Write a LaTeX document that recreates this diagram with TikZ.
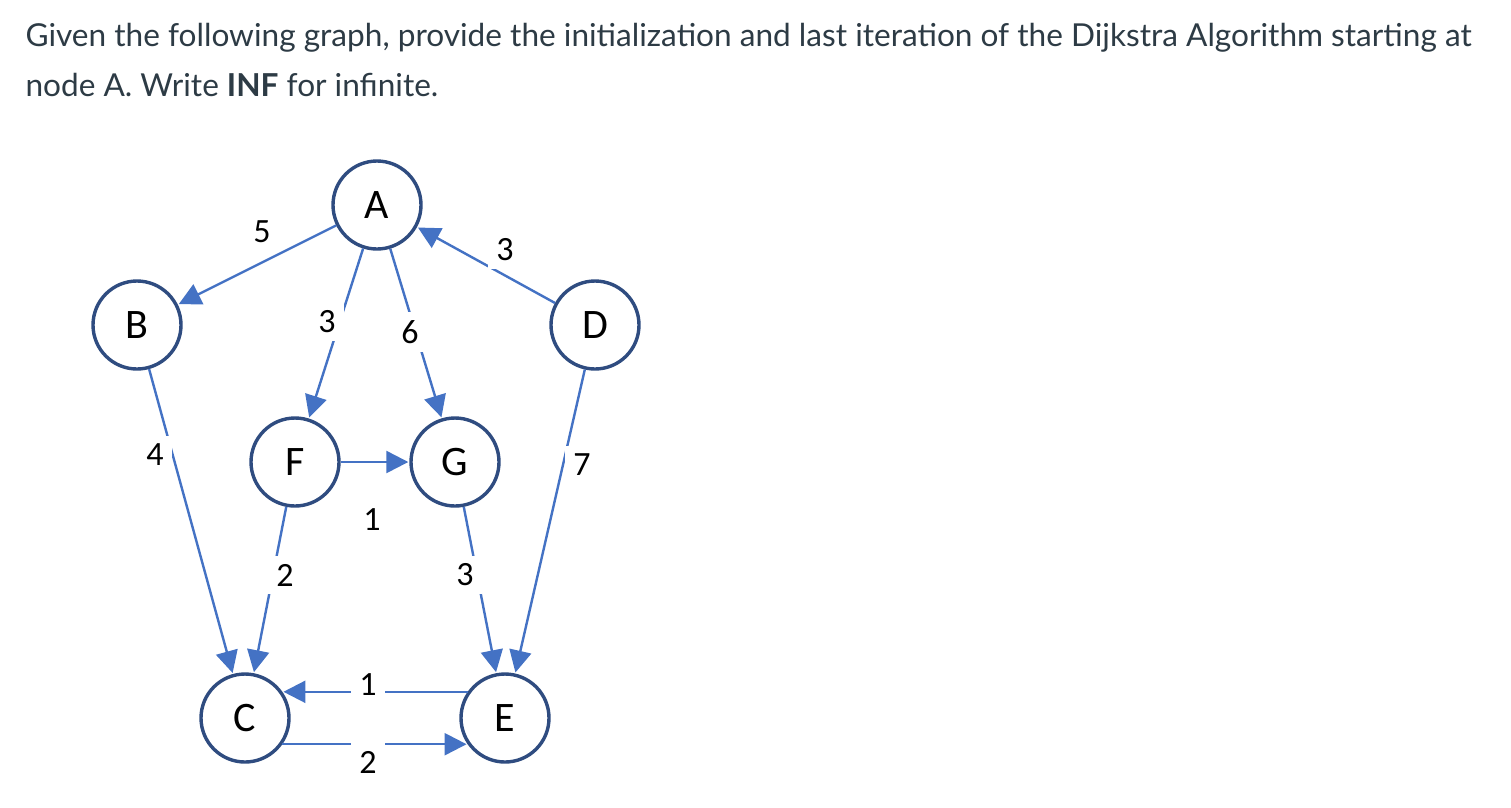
\documentclass[tikz,border=0pt]{standalone}
\usepackage{fontspec}
\setmainfont{Lato}
\newfontfamily\nodefont{Carlito}
\usetikzlibrary{arrows.meta}
\definecolor{edgeblue}{HTML}{4472C4}
\definecolor{ringblue}{HTML}{2F4C80}
\definecolor{txt}{HTML}{2D3B45}
\begin{document}
\begin{tikzpicture}[x=1pt,y=-1pt,
  vert/.style={circle,draw=ringblue,line width=3.4pt,fill=white,minimum size=88pt,inner sep=0pt,font=\nodefont\fontsize{42}{44}\selectfont,text=black},
  edge/.style={draw=edgeblue,line width=2.4pt,-{Triangle[length=22pt,width=22pt]},shorten >=1pt},
  wlab/.style={fill=white,inner sep=8pt,font=\nodefont\fontsize{34}{36}\selectfont,text=black}]
\useasboundingbox[fill=white] (0,0) rectangle (1511,807);
\node[anchor=west,text=txt,font=\fontsize{31.6}{34}\selectfont] (l1) at (22,38) {Given the following graph, provide the initialization and last iteration of the Dijkstra Algorithm starting at};
\node[anchor=west,text=txt,font=\fontsize{31.6}{34}\selectfont] (l2) at (22,85) {node A. Write \textbf{INF} for infinite.};
\node[vert] (A) at (377,205) {A};
\node[vert] (B) at (137,325) {B};
\node[vert] (D) at (595,325) {D};
\node[vert] (F) at (295,462) {F};
\node[vert] (G) at (455,462) {G};
\node[vert] (C) at (245,718) {C};
\node[vert] (E) at (505,718) {E};
\draw[edge] (A) -- (B);
\draw[edge] (D) -- (A);
\draw[edge] (A) -- (F);
\draw[edge] (A) -- (G);
\draw[edge] (B) -- (C);
\draw[edge] (D) -- (E);
\draw[edge] (F) -- (G);
\draw[edge] (F) -- (C);
\draw[edge] (G) -- (E);
\draw[edge] (E.145) -- (C.35);
\draw[edge] (C.-35) -- (E.215);
\node[wlab] (w1) at (262,232) {5};
\node[wlab] (w2) at (505,250) {3};
\node[wlab] (w3) at (327,322) {3};
\node[wlab] (w4) at (410,332) {6};
\node[wlab] (w5) at (155,455) {4};
\node[wlab] (w6) at (582,465) {7};
\node[wlab,fill=none] (w7) at (372,520) {1};
\node[wlab] (w8) at (285,575) {2};
\node[wlab] (w9) at (465,575) {3};
\node[wlab] (w10) at (368,685) {1};
\node[wlab] (w11) at (368,762) {2};
\end{tikzpicture}
\end{document}
